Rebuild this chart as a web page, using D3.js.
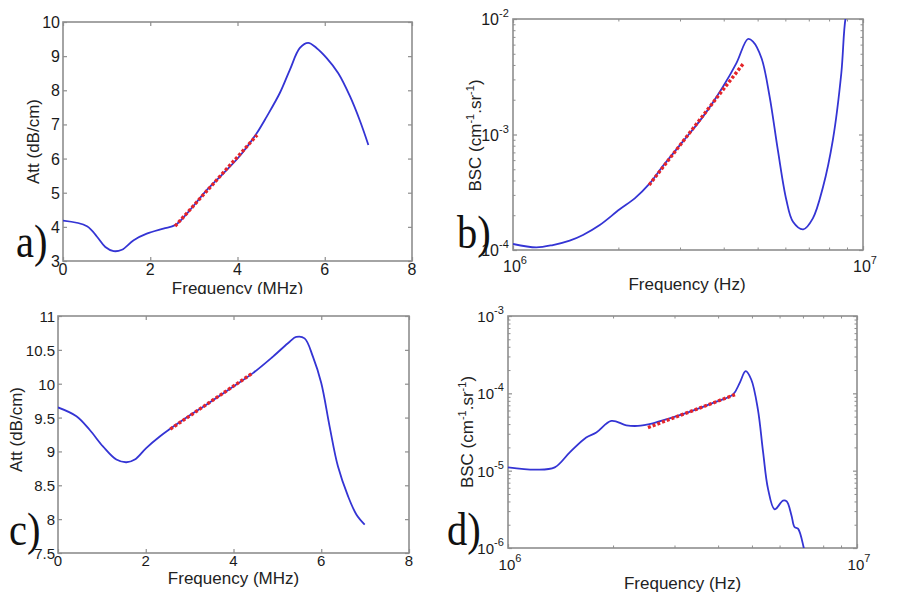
<!DOCTYPE html>
<html>
<head>
<meta charset="utf-8">
<script src="https://cdn.jsdelivr.net/npm/d3@7"></script>
<style>
  body { margin: 0; background: #fff; }
  svg { display: block; font-family: Arial, "Liberation Sans", sans-serif; }
</style>
</head>
<body>
<script>
// a) attenuation vs frequency (MHz)
const freqA = [0, 0.55, 0.78, 0.97, 1.16, 1.35, 1.62, 1.92, 2.30, 2.57, 2.84, 3.30, 3.75, 4.10, 4.44, 4.67, 4.97, 5.2, 5.43, 5.62, 5.81, 6.04, 6.31, 6.58, 6.80, 7.0];
const attA  = [4.18, 4.02, 3.71, 3.41, 3.29, 3.33, 3.61, 3.80, 3.95, 4.05, 4.39, 5.08, 5.66, 6.15, 6.74, 7.23, 7.92, 8.6, 9.24, 9.39, 9.24, 8.95, 8.50, 7.82, 7.13, 6.40];
const fitFreqA = [2.57, 4.45];
const fitAttA  = [4.02, 6.69];

// b) BSC vs frequency (Hz), log-log
const freqB = [1.0e6, 1.166e6, 1.30e6, 1.452e6, 1.585e6, 1.77e6, 2.018e6, 2.228e6, 2.455e6, 2.69e6, 3.06e6, 3.49e6, 3.98e6, 4.345e6, 4.69e6, 4.85e6, 5.13e6, 5.41e6, 5.71e6, 6.04e6, 6.31e6, 6.75e6, 7.19e6, 7.69e6, 8.20e6, 8.67e6, 8.91e6, 9.12e6];
const bscB  = [1.127e-4, 1.054e-4, 1.104e-4, 1.205e-4, 1.349e-4, 1.644e-4, 2.25e-4, 2.80e-4, 3.75e-4, 5.40e-4, 8.71e-4, 1.429e-3, 2.594e-3, 4.13e-3, 6.71e-3, 6.37e-3, 4.57e-3, 2.13e-3, 7.35e-4, 2.71e-4, 1.758e-4, 1.51e-4, 1.88e-4, 3.53e-4, 8.95e-4, 3.39e-3, 1.0e-2, 1.3e-2];
const fitFreqB = [2.449e6, 4.539e6];
const fitBscB  = [3.656e-4, 4.07e-3];

// c) attenuation vs frequency (MHz)
const freqC = [0, 0.42, 0.72, 1.03, 1.33, 1.56, 1.75, 2.01, 2.32, 2.55, 2.93, 3.38, 3.84, 4.45, 4.9, 5.28, 5.43, 5.62, 5.81, 6.0, 6.19, 6.38, 6.61, 6.8, 6.99];
const attC  = [9.65, 9.52, 9.32, 9.07, 8.88, 8.84, 8.88, 9.05, 9.22, 9.33, 9.50, 9.69, 9.89, 10.16, 10.4, 10.62, 10.69, 10.67, 10.4, 10.01, 9.37, 8.78, 8.34, 8.07, 7.92];
const fitFreqC = [2.56, 4.42];
const fitAttC  = [9.33, 10.15];

// d) BSC vs frequency (Hz), log-log
const freqD = [1.0e6, 1.205e6, 1.361e6, 1.503e6, 1.675e6, 1.791e6, 1.977e6, 2.183e6, 2.355e6, 2.60e6, 2.904e6, 3.311e6, 3.954e6, 4.416e6, 4.613e6, 4.797e6, 4.977e6, 5.20e6, 5.383e6, 5.56e6, 5.81e6, 6.138e6, 6.29e6, 6.49e6, 6.622e6, 6.776e6, 7.03e6, 7.24e6];
const bscD  = [1.104e-5, 1.03e-5, 1.104e-5, 1.722e-5, 2.685e-5, 3.112e-5, 4.395e-5, 3.864e-5, 3.793e-5, 4.10e-5, 4.75e-5, 5.77e-5, 7.80e-5, 9.705e-5, 1.368e-4, 1.932e-4, 1.51e-4, 6.21e-5, 1.72e-5, 5.81e-6, 3.16e-6, 4.11e-6, 4.0e-6, 2.64e-6, 1.87e-6, 1.78e-6, 1.03e-6, 5e-7];
const fitFreqD = [2.518e6, 4.487e6];
const fitBscD  = [3.606e-5, 9.68e-5];

// tick values
const ticksAttAX = [0, 2, 4, 6, 8];
const ticksAttAY = [3, 4, 5, 6, 7, 8, 9, 10];
const ticksAttCY = [7.5, 8, 8.5, 9, 9.5, 10, 10.5, 11];
const decadesHz = [6, 7];
const decadesB = [-4, -3, -2];
const decadesD = [-6, -5, -4, -3];

const W = 902, H = 596;
const boxColor = "#8e8e8e";
const lineBlue = "#3434d4";
const fitRed = "#e4252a";

const svg = d3.select("body").append("svg")
  .attr("width", W)
  .attr("height", H);

const defs = svg.append("defs");
// top figure row was cropped just under its x label
defs.append("clipPath").attr("id", "topcrop")
  .append("rect").attr("x", 0).attr("y", 0).attr("width", W).attr("height", 294);

function minorTicks(decades) {
  const out = [];
  for (let k = decades[0]; k < decades[decades.length - 1]; k++) {
    for (let m = 2; m <= 9; m++) out.push(m * Math.pow(10, k));
  }
  return out;
}

function panel(cfg) {
  const g = svg.append("g");
  const id = cfg.tag.replace(")", "");
  const x = cfg.xLog ? d3.scaleLog() : d3.scaleLinear();
  x.domain(cfg.xDomain).range([cfg.x0, cfg.x1]);
  const y = cfg.yLog ? d3.scaleLog() : d3.scaleLinear();
  y.domain(cfg.yDomain).range([cfg.y1, cfg.y0]);

  defs.append("clipPath").attr("id", "clip" + id)
    .append("rect")
    .attr("x", cfg.x0).attr("y", cfg.y0)
    .attr("width", cfg.x1 - cfg.x0).attr("height", cfg.y1 - cfg.y0);

  // box
  g.append("rect")
    .attr("x", cfg.x0).attr("y", cfg.y0)
    .attr("width", cfg.x1 - cfg.x0).attr("height", cfg.y1 - cfg.y0)
    .attr("fill", "none").attr("stroke", boxColor).attr("stroke-width", 1.6);

  const xMajor = cfg.xLog ? cfg.xDecades.map(k => Math.pow(10, k)) : cfg.xTicks;
  const yMajor = cfg.yLog ? cfg.yDecades.map(k => Math.pow(10, k)) : cfg.yTicks;

  // ticks pointing inward on all four sides
  const sides = [
    [d3.axisBottom(x), "translate(0," + cfg.y1 + ")", xMajor, cfg.xLog ? minorTicks(cfg.xDecades) : []],
    [d3.axisTop(x), "translate(0," + cfg.y0 + ")", xMajor, cfg.xLog ? minorTicks(cfg.xDecades) : []],
    [d3.axisLeft(y), "translate(" + cfg.x0 + ",0)", yMajor, cfg.yLog ? minorTicks(cfg.yDecades) : []],
    [d3.axisRight(y), "translate(" + cfg.x1 + ",0)", yMajor, cfg.yLog ? minorTicks(cfg.yDecades) : []]
  ];
  sides.forEach(([ax, tr, major, minor]) => {
    const a1 = g.append("g").attr("transform", tr)
      .call(ax.tickValues(major).tickSize(-4).tickFormat(""));
    a1.select(".domain").remove();
    a1.selectAll("line").attr("stroke", boxColor).attr("stroke-width", 1.2);
    if (minor.length) {
      const a2 = g.append("g").attr("transform", tr)
        .call(ax.tickValues(minor).tickSize(-2.5).tickFormat(""));
      a2.select(".domain").remove();
      a2.selectAll("line").attr("stroke", boxColor).attr("stroke-width", 1);
    }
  });

  // tick labels
  const fs = cfg.tickFont;
  const lab = g.append("g").attr("font-size", fs).attr("fill", "#1a1a1a");
  if (cfg.xLog) {
    cfg.xDecades.forEach(k => {
      const t = lab.append("text")
        .attr("x", x(Math.pow(10, k)) + 2).attr("y", cfg.y1 + 22)
        .attr("text-anchor", "middle");
      t.append("tspan").text("10");
      t.append("tspan").attr("font-size", 11).attr("dy", -8).text(k);
    });
  } else {
    cfg.xTicks.forEach(v => {
      lab.append("text")
        .attr("x", x(v)).attr("y", cfg.y1 + fs - 2)
        .attr("text-anchor", "middle").text(v);
    });
  }
  if (cfg.yLog) {
    cfg.yDecades.forEach(k => {
      lab.append("text")
        .attr("x", cfg.x0 - 14).attr("y", y(Math.pow(10, k)) + 6)
        .attr("text-anchor", "end").text("10");
      lab.append("text")
        .attr("x", cfg.x0 - 14).attr("y", y(Math.pow(10, k)) - 2)
        .attr("font-size", 11).text(k);
    });
  } else {
    cfg.yTicks.forEach(v => {
      lab.append("text")
        .attr("x", cfg.x0 - 3).attr("y", y(v) + 6)
        .attr("text-anchor", "end").text(v);
    });
  }

  // axis titles
  const xt = g.append("text")
    .attr("x", (cfg.x0 + cfg.x1) / 2 + cfg.xTitleDx)
    .attr("y", cfg.xTitleY)
    .attr("text-anchor", "middle")
    .attr("font-size", 17).attr("fill", "#222")
    .text(cfg.xTitle);
  if (cfg.crop) xt.attr("clip-path", "url(#topcrop)");

  const yt = g.append("text")
    .attr("transform", "translate(" + cfg.yTitleX + "," + ((cfg.y0 + cfg.y1) / 2 + cfg.yTitleDy) + ") rotate(-90)")
    .attr("text-anchor", "middle")
    .attr("font-size", 17).attr("fill", "#222");
  if (cfg.yLog) {
    yt.append("tspan").text("BSC (cm");
    yt.append("tspan").attr("font-size", 11).attr("dy", -7).text("-1");
    yt.append("tspan").attr("dy", 7).text(".sr");
    yt.append("tspan").attr("font-size", 11).attr("dy", -7).text("-1");
    yt.append("tspan").attr("dy", 7).text(")");
  } else {
    yt.text("Att (dB/cm)");
  }

  // curves
  const pts = cfg.freq.map((f, i) => [f, cfg.val[i]]);
  const fit = cfg.fitF.map((f, i) => [f, cfg.fitV[i]]);
  const line = d3.line().x(d => x(d[0])).y(d => y(d[1])).curve(d3.curveCatmullRom.alpha(0.5));
  const plot = g.append("g").attr("clip-path", "url(#clip" + id + ")");
  plot.append("path").datum(pts)
    .attr("d", line)
    .attr("fill", "none").attr("stroke", lineBlue).attr("stroke-width", 1.8);
  plot.append("path").datum(fit)
    .attr("d", d3.line().x(d => x(d[0])).y(d => y(d[1])))
    .attr("fill", "none").attr("stroke", fitRed)
    .attr("stroke-width", 3.4).attr("stroke-dasharray", "3,2");

  // panel tag
  svg.append("text")
    .attr("transform", "translate(" + cfg.tagX + "," + cfg.tagY + ") scale(0.88,1)")
    .attr("font-family", "'Liberation Serif', 'Times New Roman', serif")
    .attr("font-size", 46).attr("fill", "#111")
    .text(cfg.tag);
}

panel({
  tag: "a)", tagX: 16, tagY: 257, tickFont: 16,
  x0: 63, x1: 412, y0: 22, y1: 261,
  xDomain: [0, 8], yDomain: [3, 10], xTicks: ticksAttAX, yTicks: ticksAttAY,
  freq: freqA, val: attA, fitF: fitFreqA, fitV: fitAttA,
  xTitle: "Frequency (MHz)", xTitleY: 294, xTitleDx: 0, crop: true,
  yTitleX: 39, yTitleDy: 0
});

panel({
  tag: "b)", tagX: 457, tagY: 248, tickFont: 16,
  x0: 513, x1: 863, y0: 19, y1: 250,
  xLog: true, yLog: true,
  xDomain: [1e6, 1e7], yDomain: [1e-4, 1e-2], xDecades: decadesHz, yDecades: decadesB,
  freq: freqB, val: bscB, fitF: fitFreqB, fitV: fitBscB,
  xTitle: "Frequency (Hz)", xTitleY: 290, xTitleDx: -1,
  yTitleX: 481, yTitleDy: 1
});

panel({
  tag: "c)", tagX: 9, tagY: 545, tickFont: 15,
  x0: 58, x1: 409, y0: 316, y1: 553,
  xDomain: [0, 8], yDomain: [7.5, 11], xTicks: ticksAttAX, yTicks: ticksAttCY,
  freq: freqC, val: attC, fitF: fitFreqC, fitV: fitAttC,
  xTitle: "Frequency (MHz)", xTitleY: 584, xTitleDx: 0,
  yTitleX: 22, yTitleDy: -5
});

panel({
  tag: "d)", tagX: 447, tagY: 545, tickFont: 15,
  x0: 508, x1: 857, y0: 316, y1: 548,
  xLog: true, yLog: true,
  xDomain: [1e6, 1e7], yDomain: [1e-6, 1e-3], xDecades: decadesHz, yDecades: decadesD,
  freq: freqD, val: bscD, fitF: fitFreqD, fitV: fitBscD,
  xTitle: "Frequency (Hz)", xTitleY: 589, xTitleDx: 0,
  yTitleX: 473, yTitleDy: 0
});
</script>
</body>
</html>
